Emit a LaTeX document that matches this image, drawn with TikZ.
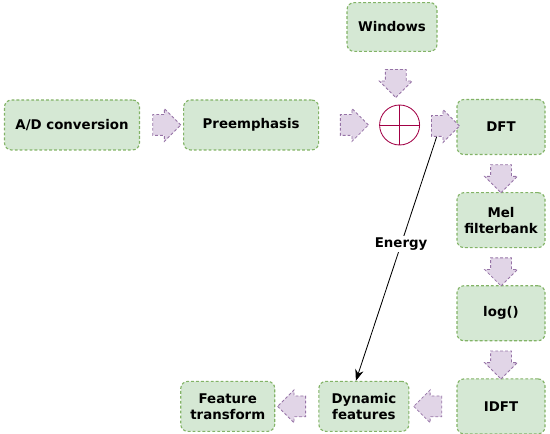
\documentclass[tikz,border=0pt]{standalone}
\usepackage{fontspec}
\setmainfont{DejaVu Sans}
\usetikzlibrary{arrows.meta,positioning,calc,shapes.arrows}

\definecolor{boxfill}{HTML}{D5E8D4}
\definecolor{boxline}{HTML}{82B366}
\definecolor{arrfill}{HTML}{E1D5E7}
\definecolor{arrline}{HTML}{9673A6}
\definecolor{sumline}{HTML}{A20045}

\newcommand{\lbl}{\fontsize{9.5}{11.5}\selectfont\bfseries}

\begin{document}
\begin{tikzpicture}[
  box/.style={draw=boxline, fill=boxfill, line width=0.8pt, dash pattern=on 2pt off 1.5pt, rounded corners=5pt, minimum width=3.375cm, minimum height=1.25cm, align=center, font=\lbl},
  colbox/.style={box, minimum width=2.2cm, minimum height=1.375cm},
  bigarr/.style={single arrow, draw=arrline, fill=arrfill, line width=0.6pt, dash pattern=on 2pt off 1.5pt, inner xsep=0pt, inner ysep=0.25cm, minimum height=0.7cm, single arrow head extend=0.15cm},
  sum/.style={circle, draw=sumline, semithick, minimum size=1cm, inner sep=0pt},
  arr/.style={semithick, -{Stealth[length=8pt,width=6pt]}},
  node distance=1.075cm
]
\useasboundingbox (0,0) rectangle (13.75,10.825);

\node[box] (ad) at (1.8,7.7) {A/D conversion};
\node[box, right=of ad] (pre) {Preemphasis};
\node[sum, right=1.5cm of pre] (sum) {};
\draw[sumline, semithick] (sum.north) -- (sum.south) (sum.west) -- (sum.east);
\node[box, minimum width=2.25cm, minimum height=1.22cm] (win) at (9.8,10.15) {Windows};

\node[colbox] (dft) at (12.525,7.65) {DFT};
\node[colbox, below=0.925cm of dft] (mel) {Mel\\filterbank};
\node[colbox, below=0.925cm of mel] (log) {log()};
\node[colbox, below=0.925cm of log] (idft) {IDFT};

\node[box, minimum width=2.25cm, left=1.175cm of idft] (dyn) {Dynamic\\features};
\node[box, minimum width=2.35cm, left=of dyn] (ft) {Feature\\transform};

% block arrows
\node[bigarr] (a1) at ($(ad.east)!0.5!(pre.west)$) {};
\node[bigarr] (a2) at ($(pre.east)!0.5!(sum.west)$) {};
\node[bigarr] (a3) at ($(sum.east)!0.5!(dft.west)+(0.05,0)$) {};
\node[bigarr, rotate=-90] (a4) at ($(win.south)!0.5!(sum.north)$) {};
\node[bigarr, rotate=-90] (a5) at ($(dft.south)!0.5!(mel.north)$) {};
\node[bigarr, rotate=-90] (a6) at ($(mel.south)!0.5!(log.north)$) {};
\node[bigarr, rotate=-90] (a7) at ($(log.south)!0.5!(idft.north)$) {};
\node[bigarr, rotate=180] (a8) at ($(idft.west)!0.5!(dyn.east)$) {};
\node[bigarr, rotate=180] (a9) at ($(dyn.west)!0.5!(ft.east)$) {};

\draw[arr] (a3) -- node[pos=0.44, fill=white, inner sep=1pt, font=\lbl] {Energy} ([xshift=-0.2cm]dyn.north);

\end{tikzpicture}
\end{document}
